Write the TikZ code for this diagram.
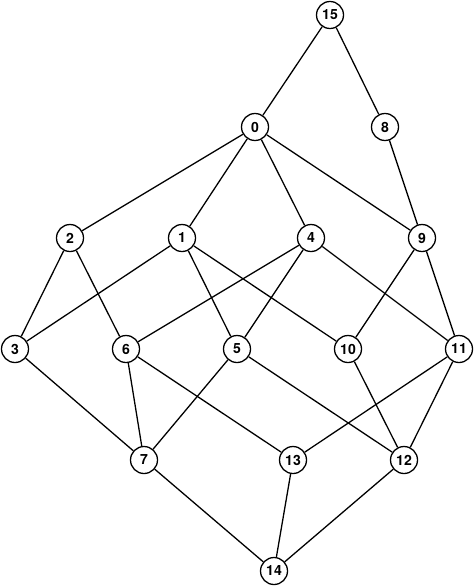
\documentclass[tikz,border=0pt]{standalone}
\usepackage{fontspec}
\setmainfont{TeX Gyre Heros}
\begin{document}
\begin{tikzpicture}[x=0.03cm,y=-0.03cm]
	\tikzset{vertex/.style = {shape=circle,draw,line width=1.1pt,fill=white,inner sep=0pt,minimum size=0.81cm,font=\fontsize{12}{14}\selectfont\bfseries}}
	\tikzset{edge/.style = {draw,line width=1.1pt}}
	\useasboundingbox (0,0) rectangle (474,587);
	\node[vertex] (v15) at (330,15) {15};
	\node[vertex] (v0) at (255,127) {0};
	\node[vertex] (v8) at (385,127) {8};
	\node[vertex] (v2) at (70,238) {2};
	\node[vertex] (v1) at (182,238) {1};
	\node[vertex] (v4) at (311,238) {4};
	\node[vertex] (v9) at (422,238) {9};
	\node[vertex] (v3) at (15,349) {3};
	\node[vertex] (v6) at (126,349) {6};
	\node[vertex] (v5) at (237,349) {5};
	\node[vertex] (v10) at (348,349) {10};
	\node[vertex] (v11) at (459,349) {11};
	\node[vertex] (v7) at (144,460) {7};
	\node[vertex] (v13) at (293,460) {13};
	\node[vertex] (v12) at (404,460) {12};
	\node[vertex] (v14) at (274,571) {14};
	\path[edge] (v15) edge (v0) (v15) edge (v8) (v8) edge (v9);
	\path[edge] (v0) edge (v2) (v0) edge (v1) (v0) edge (v4) (v0) edge (v9);
	\path[edge] (v2) edge (v3) (v2) edge (v6);
	\path[edge] (v1) edge (v3) (v1) edge (v5) (v1) edge (v10);
	\path[edge] (v4) edge (v6) (v4) edge (v5) (v4) edge (v11);
	\path[edge] (v9) edge (v10) (v9) edge (v11);
	\path[edge] (v3) edge (v7) (v6) edge (v7) (v6) edge (v13) (v5) edge (v7) (v5) edge (v12);
	\path[edge] (v10) edge (v12) (v11) edge (v13) (v11) edge (v12);
	\path[edge] (v7) edge (v14) (v13) edge (v14) (v12) edge (v14);
\end{tikzpicture}
\end{document}
